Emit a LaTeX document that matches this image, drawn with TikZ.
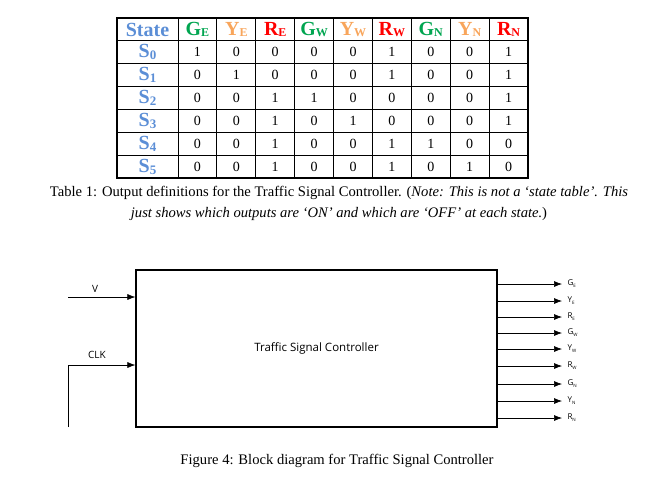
\documentclass[tikz,border=0pt]{standalone}
\usepackage{fontspec}
\usetikzlibrary{arrows.meta}
\setmainfont{Liberation Serif}
\newfontfamily\sansf{Open Sans}
\definecolor{stb}{HTML}{5B8ED6}
\definecolor{gg}{HTML}{00A550}
\definecolor{yy}{HTML}{F8A55B}
\definecolor{rr}{HTML}{FF0000}
\begin{document}
\begin{tikzpicture}[x=1pt,y=-1pt,
  cell/.style={font=\fontsize{14}{14}\selectfont},
  hd/.style={font=\fontsize{20}{20}\selectfont\bfseries},
  lab/.style={font=\sansf\fontsize{8}{8}\selectfont},
  arr/.style={-{Latex[length=8pt,width=6pt]},line width=0.6pt}]
\useasboundingbox (0,0) rectangle (671,496);
% table grid
\draw[line width=1.2pt] (117,18) rectangle (528,178);
\foreach \i in {1,...,6} \draw[line width=1pt] (117,{18+\i*160/7}) -- (528,{18+\i*160/7});
\draw[line width=1pt] (178,18) -- (178,178);
\foreach \j in {1,...,8} \draw[line width=1pt] ({178+\j*350/9},18) -- ({178+\j*350/9},178);
\node[hd,text=stb] (hst) at (147.5,29.5) {State};
\foreach \l/\s/\c [count=\j from 0] in {G/E/gg,Y/E/yy,R/E/rr,G/W/gg,Y/W/yy,R/W/rr,G/N/gg,Y/N/yy,R/N/rr}
  \node[hd,text=\c] (h\j) at ({178+(\j+0.5)*350/9},29.5) {\l\raisebox{-0.5pt}{\fontsize{12}{12}\selectfont\s}};
\foreach \r [count=\i from 0] in {{1,0,0,0,0,1,0,0,1},{0,1,0,0,0,1,0,0,1},{0,0,1,1,0,0,0,0,1},{0,0,1,0,1,0,0,0,1},{0,0,1,0,0,1,1,0,0},{0,0,1,0,0,1,0,1,0}}{
  \node[hd,text=stb] (s\i) at (147.5,{18+(\i+1.5)*160/7}) {S\raisebox{-2pt}{\fontsize{13}{13}\selectfont\i}};
  \foreach \v [count=\j from 0] in \r
    \node[cell] (c\i\j) at ({178+(\j+0.5)*350/9},{18+(\i+1.5)*160/7}) {\v};
}
\node[font=\fontsize{14.6}{21}\selectfont,align=center] (cap1) at (339,203) {Table 1: Output definitions for the Traffic Signal Controller. (\textit{Note: This is not a `state table'. This}\\ \textit{just shows which outputs are `ON' and which are `OFF' at each state.})};
% block diagram
\node[draw,line width=1.2pt,minimum width=361pt,minimum height=157pt,font=\sansf\fontsize{11.5}{11.5}\selectfont] (blk) at (316.5,348.5) {Traffic Signal Controller};
\coordinate (vin) at (68,297);
\draw[arr] (vin) -- (blk.west |- vin);
\node[font=\sansf\fontsize{10}{10}\selectfont] (vl) at (95,289) {V};
\coordinate (cb) at (68,427);
\coordinate (cc) at (68,365);
\draw[arr] (cb) -- (cc) -- (blk.west |- cc);
\node[font=\sansf\fontsize{10}{10}\selectfont] (cl) at (97,355) {CLK};
\foreach \l/\s/\y [count=\k] in {G/E/284,Y/E/301,R/E/317,G/W/333,Y/W/349,R/W/366,G/N/384,Y/N/401,R/N/418}{
  \coordinate (o\k) at (562,\y);
  \draw[arr] (blk.east |- o\k) -- (o\k);
  \node[lab,anchor=west] (ol\k) at (564,\y) {\l\raisebox{-2pt}{\fontsize{4.5}{4.5}\selectfont\s}};
}
\node[font=\fontsize{14.6}{14.6}\selectfont] (cap2) at (337,461) {Figure 4: Block diagram for Traffic Signal Controller};
\end{tikzpicture}
\end{document}
